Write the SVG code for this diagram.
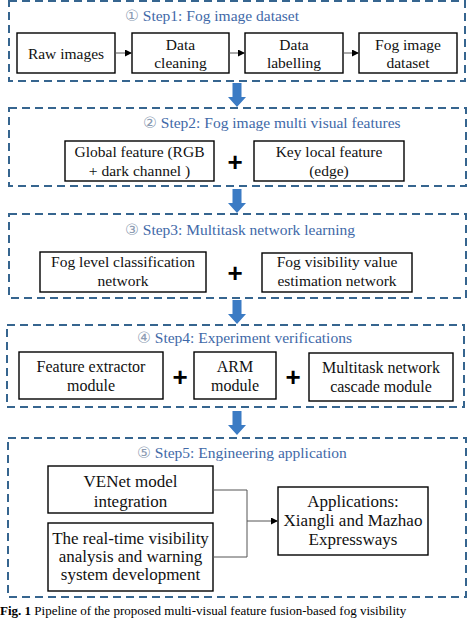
<svg xmlns="http://www.w3.org/2000/svg" width="474" height="620" viewBox="0 0 474 620">
<defs>
<style>
.step{fill:none;stroke:#36658f;stroke-width:2;stroke-dasharray:8 5}
.box{fill:#fff;stroke:#000;stroke-width:1.4}
.t{font-family:"Liberation Serif","Times New Roman",serif;font-size:15.5px;fill:#111;text-anchor:middle}
.t16{font-size:16px}
.t17{font-size:17px}
.title{font-family:"Liberation Serif","Times New Roman",serif;font-size:15.5px;fill:#4169a8}
.num{font-family:"DejaVu Sans",sans-serif;fill:#8c9cb3}
.plus{font-family:"Liberation Sans",Arial,sans-serif;font-size:26px;font-weight:bold;fill:#000;text-anchor:middle}
.conn{fill:none;stroke:#555;stroke-width:1}
.blk{fill:#3b7bc4}
.cap{font-family:"Liberation Serif","Times New Roman",serif;font-size:13px;fill:#000}
</style>
<marker id="ah" viewBox="0 0 10 10" refX="10" refY="5" markerWidth="7" markerHeight="7" orient="auto" markerUnits="userSpaceOnUse">
<path d="M0,0 L10,5 L0,10 z" fill="#000"/>
</marker>
<path id="barrow" d="M-4.5,0 H4.5 V14 H9 L0,24 L-9,14 H-4.5 Z"/>
</defs>

<g id="step1">
<rect class="step" x="9" y="1" width="456" height="80"/>
<text class="title" x="125" y="21"><tspan class="num">①</tspan> Step1: Fog image dataset</text>
</g>
<g id="raw"><rect class="box" x="17" y="33" width="98" height="40"/><text class="t" x="66" y="59">Raw images</text></g>
<g id="clean"><rect class="box" x="132" y="33" width="97" height="40"/><text class="t" x="180.5" y="50">Data</text><text class="t" x="180.5" y="68">cleaning</text></g>
<g id="label"><rect class="box" x="245" y="33" width="98" height="40"/><text class="t" x="294" y="50">Data</text><text class="t" x="294" y="68">labelling</text></g>
<g id="fogds"><rect class="box" x="359" y="33" width="98" height="40"/><text class="t" x="408" y="50">Fog image</text><text class="t" x="408" y="68">dataset</text></g>

<g id="step2">
<rect class="step" x="9" y="108" width="457" height="78"/>
<text class="title" x="143" y="128"><tspan class="num">②</tspan> Step2: Fog image multi visual features</text>
</g>
<g id="global"><rect class="box" x="65" y="141" width="149" height="40"/><text class="t" x="139.5" y="157">Global feature (RGB</text><text class="t" x="139.5" y="176">+ dark channel )</text></g>
<g id="local"><rect class="box" x="254" y="141" width="150" height="40"/><text class="t" x="329" y="157">Key local feature</text><text class="t" x="329" y="176">(edge)</text></g>

<g id="step3">
<rect class="step" x="9" y="214" width="457" height="84"/>
<text class="title" x="125" y="235"><tspan class="num">③</tspan> Step3: Multitask network learning</text>
</g>
<g id="fogcls"><rect class="box" x="40" y="252" width="166" height="40"/><text class="t" x="123" y="267">Fog level classification</text><text class="t" x="123" y="286">network</text></g>
<g id="fogvis"><rect class="box" x="262" y="253" width="150" height="39"/><text class="t" x="337" y="267">Fog visibility value</text><text class="t" x="337" y="286">estimation network</text></g>

<g id="step4">
<rect class="step" x="7" y="325" width="457" height="82"/>
<text class="title" x="137" y="343"><tspan class="num">④</tspan> Step4: Experiment verifications</text>
</g>
<g id="feat"><rect class="box" x="19" y="352" width="144" height="47"/><text class="t t16" x="91" y="372">Feature extractor</text><text class="t t16" x="91" y="391">module</text></g>
<g id="arm"><rect class="box" x="194" y="352" width="82" height="47"/><text class="t t16" x="235" y="372">ARM</text><text class="t t16" x="235" y="391">module</text></g>
<g id="cascade"><rect class="box" x="309" y="353" width="144" height="48"/><text class="t t16" x="381" y="373">Multitask network</text><text class="t t16" x="381" y="392">cascade module</text></g>

<g id="step5">
<rect class="step" x="8" y="438" width="458" height="159"/>
<text class="title" x="137" y="458"><tspan class="num">⑤</tspan> Step5: Engineering application</text>
</g>
<g id="venet"><rect class="box" x="48" y="466" width="165" height="47"/><text class="t t17" x="130.5" y="487">VENet model</text><text class="t t17" x="130.5" y="507">integration</text></g>
<g id="realtime"><rect class="box" x="48" y="523" width="165" height="68"/><text class="t t17" x="130.5" y="544">The real-time visibility</text><text class="t t17" x="130.5" y="562">analysis and warning</text><text class="t t17" x="130.5" y="580">system development</text></g>
<g id="apps"><rect class="box" x="278" y="487" width="150" height="68"/><text class="t t17" x="353" y="507">Applications:</text><text class="t t17" x="353" y="526">Xiangli and Mazhao</text><text class="t t17" x="353" y="545">Expressways</text></g>

<g id="connectors">
<line class="conn" x1="115" y1="53" x2="132" y2="53" marker-end="url(#ah)"/>
<line class="conn" x1="229" y1="53" x2="245" y2="53" marker-end="url(#ah)"/>
<line class="conn" x1="343" y1="53" x2="359" y2="53" marker-end="url(#ah)"/>
<polyline class="conn" points="213,490 247,490 247,557 213,557"/>
<line class="conn" x1="247" y1="521" x2="278" y2="521" marker-end="url(#ah)"/>
<use href="#barrow" class="blk" x="237" y="83"/>
<use href="#barrow" class="blk" x="237" y="189"/>
<use href="#barrow" class="blk" x="237" y="300"/>
<use href="#barrow" class="blk" x="237" y="411"/>
<text class="plus" x="235" y="171">+</text>
<text class="plus" x="235" y="282">+</text>
<text class="plus" x="180" y="386">+</text>
<text class="plus" x="293" y="386">+</text>
</g>

<text class="cap" x="0" y="615"><tspan font-weight="bold">Fig. 1</tspan>  Pipeline of the proposed multi-visual feature fusion-based fog visibility</text>
</svg>
